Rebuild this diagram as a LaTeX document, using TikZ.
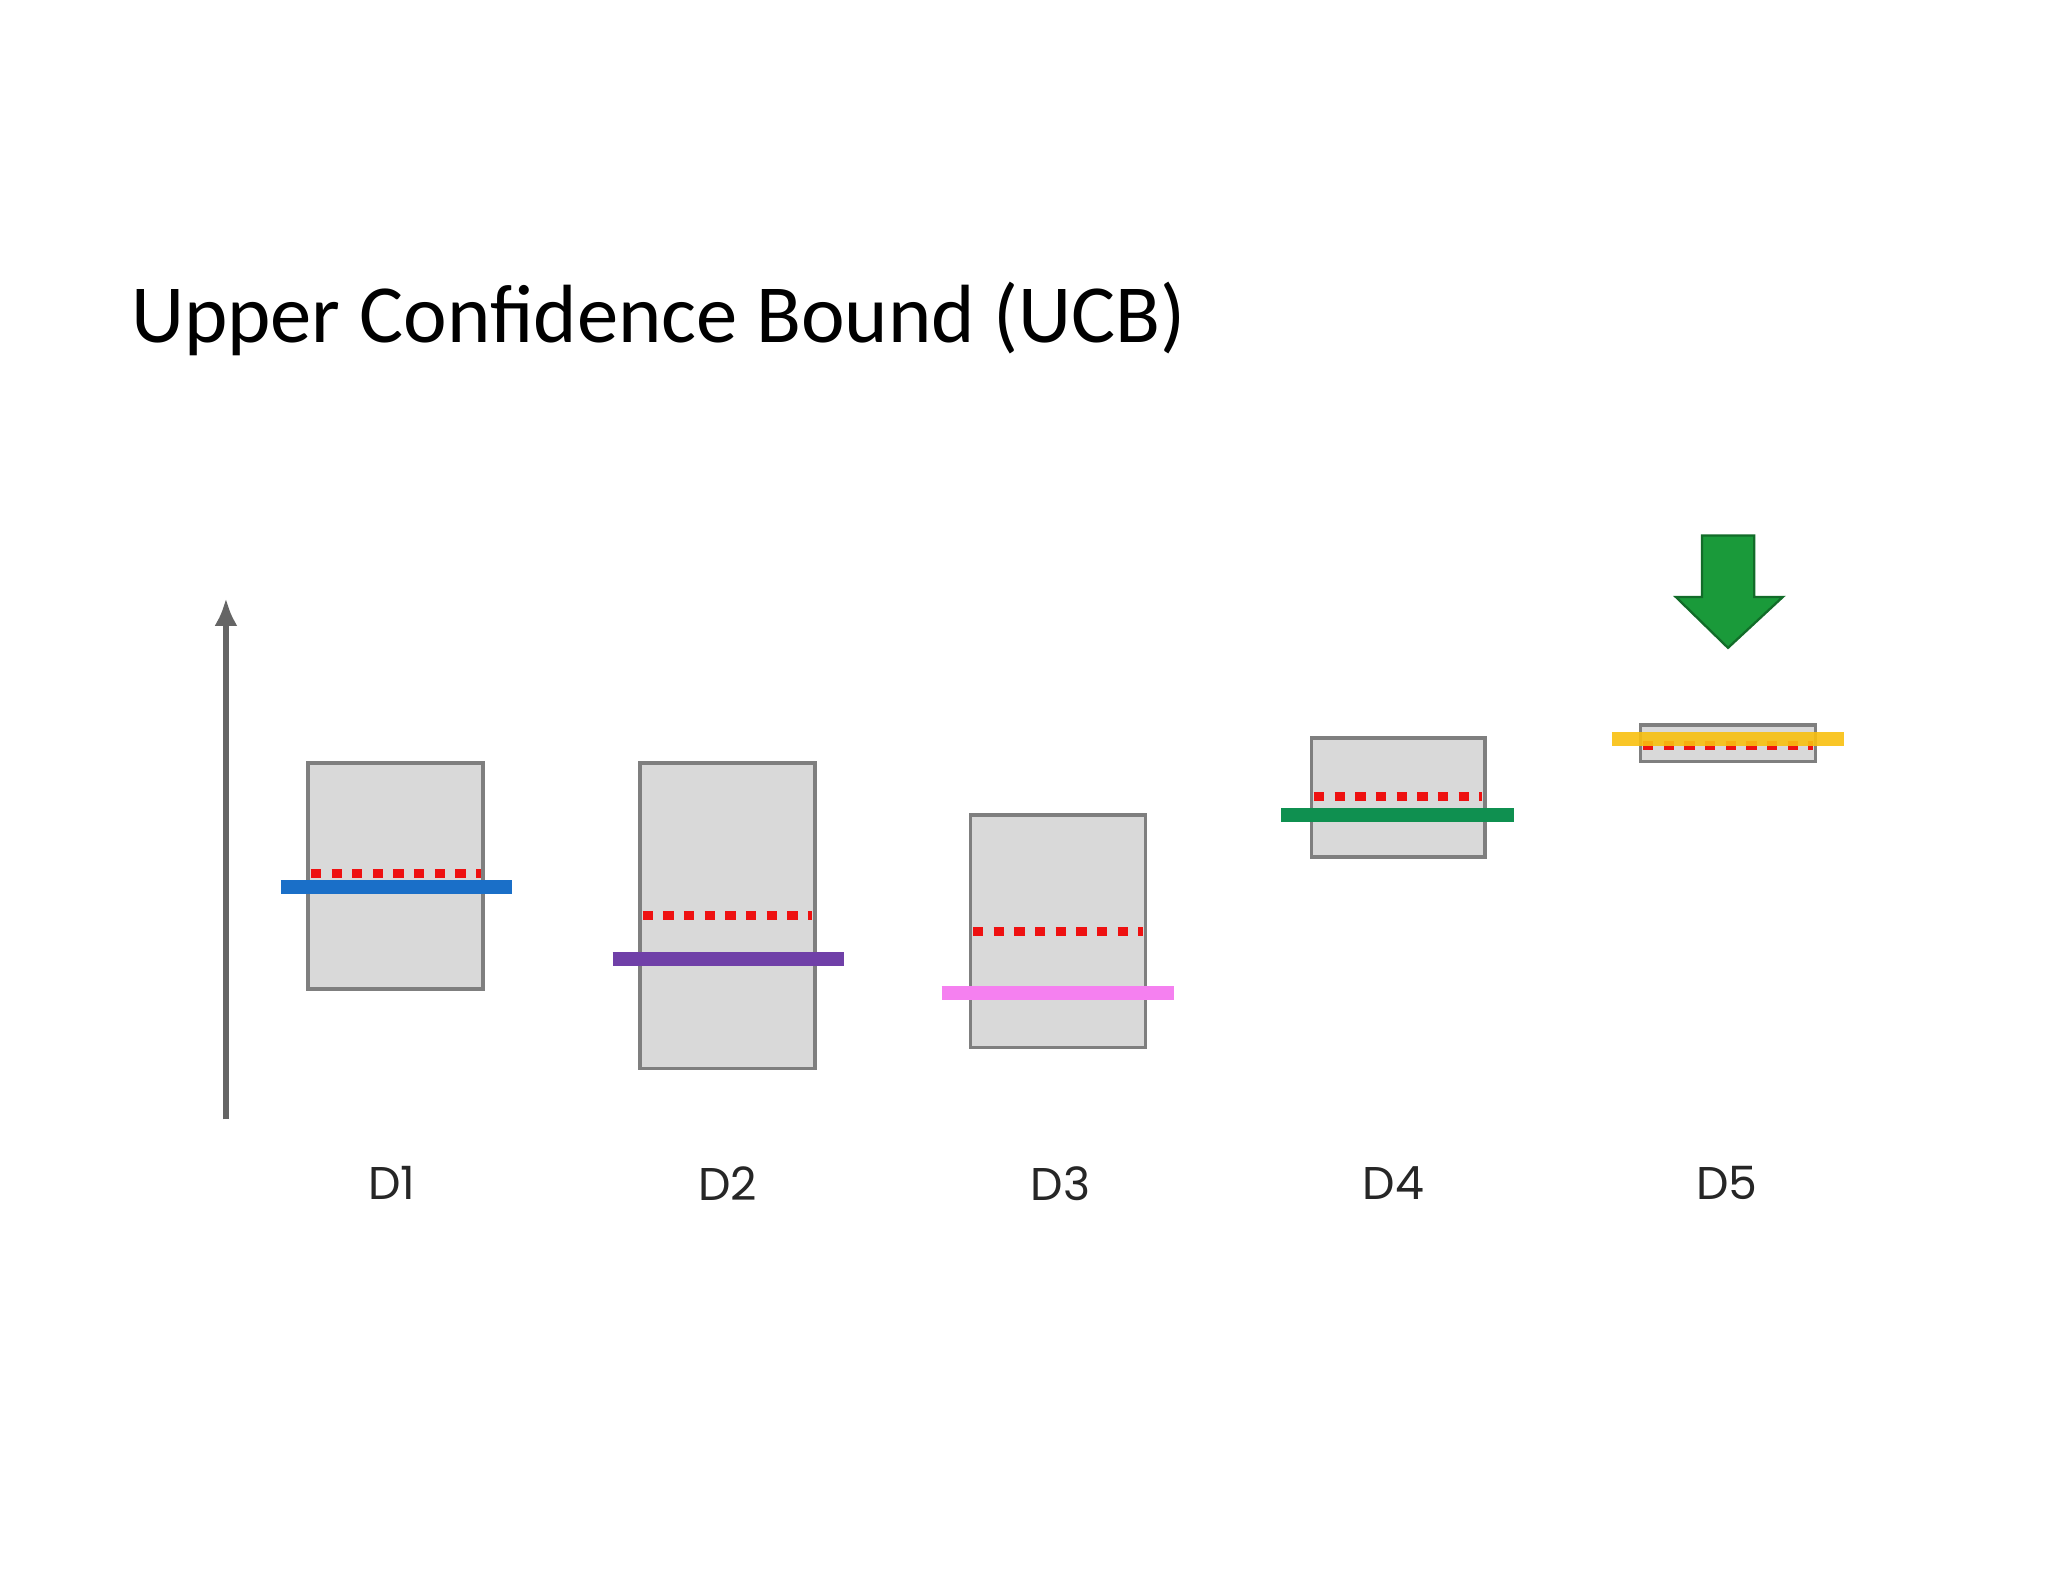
\documentclass[tikz,border=0pt]{standalone}
\usepackage{fontspec}
\usetikzlibrary{arrows.meta}
\setmainfont{Carlito}
\newfontfamily\lbl{Poppins}
\definecolor{boxfill}{HTML}{D9D9D9}
\definecolor{boxline}{HTML}{7F7F7F}
\definecolor{dred}{HTML}{EE1111}
\definecolor{cblue}{HTML}{1A6FC8}
\definecolor{cpurple}{HTML}{7040A8}
\definecolor{cpink}{HTML}{F580F0}
\definecolor{cgreen}{HTML}{0F9050}
\definecolor{corange}{HTML}{F8C010}
\definecolor{agreen}{HTML}{1A9A3A}
\begin{document}
\begin{tikzpicture}[x=0.02cm,y=-0.02cm,
  ubox/.style={draw=boxline,fill=boxfill,line width=1.6pt},
  mean/.style={dred,line width=4pt,dash pattern=on 4.5pt off 4.5pt},
  bar/.style={line width=6pt},
  lab/.style={font=\lbl\fontsize{20}{24}\selectfont,text=black!85}]
\useasboundingbox (0,0) rectangle (1568,1211);
\node[anchor=base west,inner sep=0,font=\fontsize{36}{44}\selectfont] (title) at (100,262) {Upper Confidence Bound (UCB)};
\coordinate (a0) at (173,857); \coordinate (a1) at (173,458);
\draw[boxline!80!black,line width=2.5pt,-{Latex[length=12pt,width=10pt]}] (a0) -- (a1);
% boxes
\draw[ubox] (236,584) rectangle (370,757);
\draw[ubox] (490,584) rectangle (624,818);
\draw[ubox] (743,624) rectangle (877,802);
\draw[ubox] (1004,565) rectangle (1137,656);
\draw[ubox] (1256,555) rectangle (1390,583);
% dotted means
\draw[mean] (238,669) -- (368,669);
\draw[mean] (492,701) -- (622,701);
\draw[mean] (745,713) -- (875,713);
\draw[mean] (1006,610) -- (1135,610);
\draw[mean] (1258,571) -- (1388,571);
% bars
\draw[bar,cblue] (215,679) -- (392,679);
\draw[bar,cpurple] (469,734) -- (646,734);
\draw[bar,cpink] (721,760) -- (899,760);
\draw[bar,cgreen] (981,624) -- (1159,624);
\draw[bar,corange,opacity=0.9] (1234,566) -- (1412,566);
% arrow
\draw[fill=agreen,draw=agreen!70!black,line width=1pt] (1303,410) -- (1343,410) -- (1343,457) -- (1365,457) -- (1323,496) -- (1283,457) -- (1303,457) -- cycle;
% labels
\node[lab] (d1) at (300,906) {D1};
\node[lab] (d2) at (557,906) {D2};
\node[lab] (d3) at (812,906) {D3};
\node[lab] (d4) at (1067,906) {D4};
\node[lab] (d5) at (1322,906) {D5};
\end{tikzpicture}
\end{document}
